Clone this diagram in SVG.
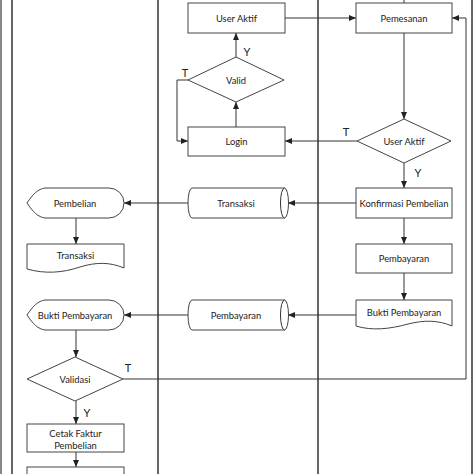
<svg xmlns="http://www.w3.org/2000/svg" width="474" height="474" viewBox="0 0 474 474">
<defs>
<marker id="ah" markerUnits="userSpaceOnUse" markerWidth="7" markerHeight="6" refX="7" refY="3" orient="auto">
<path d="M0,0 L7,3 L0,6 Z" fill="#222"/>
</marker>
<style>
.s{fill:#fff;stroke:#444;stroke-width:1}
.c{fill:none;stroke:#333;stroke-width:1;marker-end:url(#ah)}
.p{fill:none;stroke:#333;stroke-width:1}
.t{font-family:Lato,"Liberation Sans",sans-serif;font-size:9.4px;fill:#222;text-anchor:middle;dominant-baseline:central}
.l{font-family:Lato,"Liberation Sans",sans-serif;font-size:11px;fill:#222;text-anchor:middle;dominant-baseline:central}
.lane{stroke:#333;stroke-width:1.5}
</style>
</defs>
<rect width="474" height="474" fill="#fff"/>
<g id="lanes">
<line x1="1" y1="0" x2="1" y2="474" stroke="#888" stroke-width="2"/>
<line class="lane" x1="12" y1="0" x2="12" y2="474"/>
<line class="lane" x1="158" y1="0" x2="158" y2="474"/>
<line class="lane" x1="318" y1="0" x2="318" y2="474"/>
<line class="lane" x1="472" y1="0" x2="472" y2="474"/>
</g>
<g id="connectors">
<path class="p" d="M404,0 V3"/>
<path class="c" d="M285,18 H356"/>
<path class="c" d="M236,57 V33"/>
<path class="c" d="M236,127 V102"/>
<path class="c" d="M188,80 H177 V141 H188"/>
<path class="c" d="M357,141 H285"/>
<path class="c" d="M404,33 V119"/>
<path class="c" d="M404,163 V188"/>
<path class="c" d="M356,203 H288"/>
<path class="c" d="M188,203 H124"/>
<path class="c" d="M76,218 V244"/>
<path class="c" d="M404,218 V244"/>
<path class="c" d="M404,273 V300"/>
<path class="c" d="M356,315 H288"/>
<path class="c" d="M188,315 H124"/>
<path class="c" d="M76,330 V357"/>
<path class="c" d="M123,379 H466 V18 H452"/>
<path class="c" d="M76,401 V424"/>
<path class="c" d="M76,452 V467"/>
<text class="l" x="185" y="72">T</text>
<text class="l" x="247" y="51">Y</text>
<text class="l" x="346" y="131">T</text>
<text class="l" x="418" y="172">Y</text>
<text class="l" x="128" y="367">T</text>
<text class="l" x="87" y="412">Y</text>
</g>
<g id="user-aktif">
<rect class="s" x="188" y="3" width="97" height="30"/>
<text class="t" x="236.5" y="18">User Aktif</text>
</g>
<g id="pemesanan">
<rect class="s" x="356" y="3" width="96" height="30"/>
<text class="t" x="404" y="18">Pemesanan</text>
</g>
<g id="valid">
<path class="s" d="M188,80 L236,57 L284,80 L236,102 Z"/>
<text class="t" x="236" y="80">Valid</text>
</g>
<g id="login">
<rect class="s" x="188" y="127" width="97" height="29"/>
<text class="t" x="236.5" y="141.5">Login</text>
</g>
<g id="user-aktif-decision">
<path class="s" d="M357,141 L404,119 L451,141 L404,163 Z"/>
<text class="t" x="404" y="141">User Aktif</text>
</g>
<g id="konfirmasi-pembelian">
<rect class="s" x="356" y="188" width="96" height="30"/>
<text class="t" x="404" y="203">Konfirmasi Pembelian</text>
</g>
<g id="transaksi-storage">
<path class="s" d="M192,188 H284.5 A4,15 0 0 1 284.5,218 H192 A4,15 0 0 1 192,188 Z"/>
<path class="p" d="M284.5,188 A4,15 0 0 0 284.5,218"/>
<text class="t" x="236" y="203">Transaksi</text>
</g>
<g id="pembelian">
<path class="s" d="M27,203 C33,194 38,189 45,188 H109 A15,15 0 0 1 109,218 H45 C38,217 33,212 27,203 Z"/>
<text class="t" x="75" y="203">Pembelian</text>
</g>
<g id="transaksi-doc">
<path class="s" d="M27,244 H124 V268 C110,262 96,262 80,267 C62,273 45,274 27,269 Z"/>
<text class="t" x="75.5" y="255">Transaksi</text>
</g>
<g id="pembayaran">
<rect class="s" x="356" y="244" width="96" height="29"/>
<text class="t" x="404" y="258.5">Pembayaran</text>
</g>
<g id="bukti-pembayaran-doc">
<path class="s" d="M356,300 H452 V326 C438,320 424,320 408,324 C390,329 372,331 356,326 Z"/>
<text class="t" x="404" y="312">Bukti Pembayaran</text>
</g>
<g id="pembayaran-storage">
<path class="s" d="M192,300 H284.5 A4,15 0 0 1 284.5,330 H192 A4,15 0 0 1 192,300 Z"/>
<path class="p" d="M284.5,300 A4,15 0 0 0 284.5,330"/>
<text class="t" x="236" y="315">Pembayaran</text>
</g>
<g id="bukti-pembayaran">
<path class="s" d="M27,315 C33,306 38,301 45,300 H109 A15,15 0 0 1 109,330 H45 C38,329 33,324 27,315 Z"/>
<text class="t" x="75" y="315">Bukti Pembayaran</text>
</g>
<g id="validasi">
<path class="s" d="M27,379 L75,357 L123,379 L75,401 Z"/>
<text class="t" x="75" y="379">Validasi</text>
</g>
<g id="cetak-faktur">
<rect class="s" x="27" y="424" width="97" height="28"/>
<text class="t" x="75.5" y="433">Cetak Faktur</text>
<text class="t" x="75.5" y="445">Pembelian</text>
</g>
<g id="next-node">
<rect class="s" x="27" y="467" width="97" height="20"/>
</g>
</svg>
